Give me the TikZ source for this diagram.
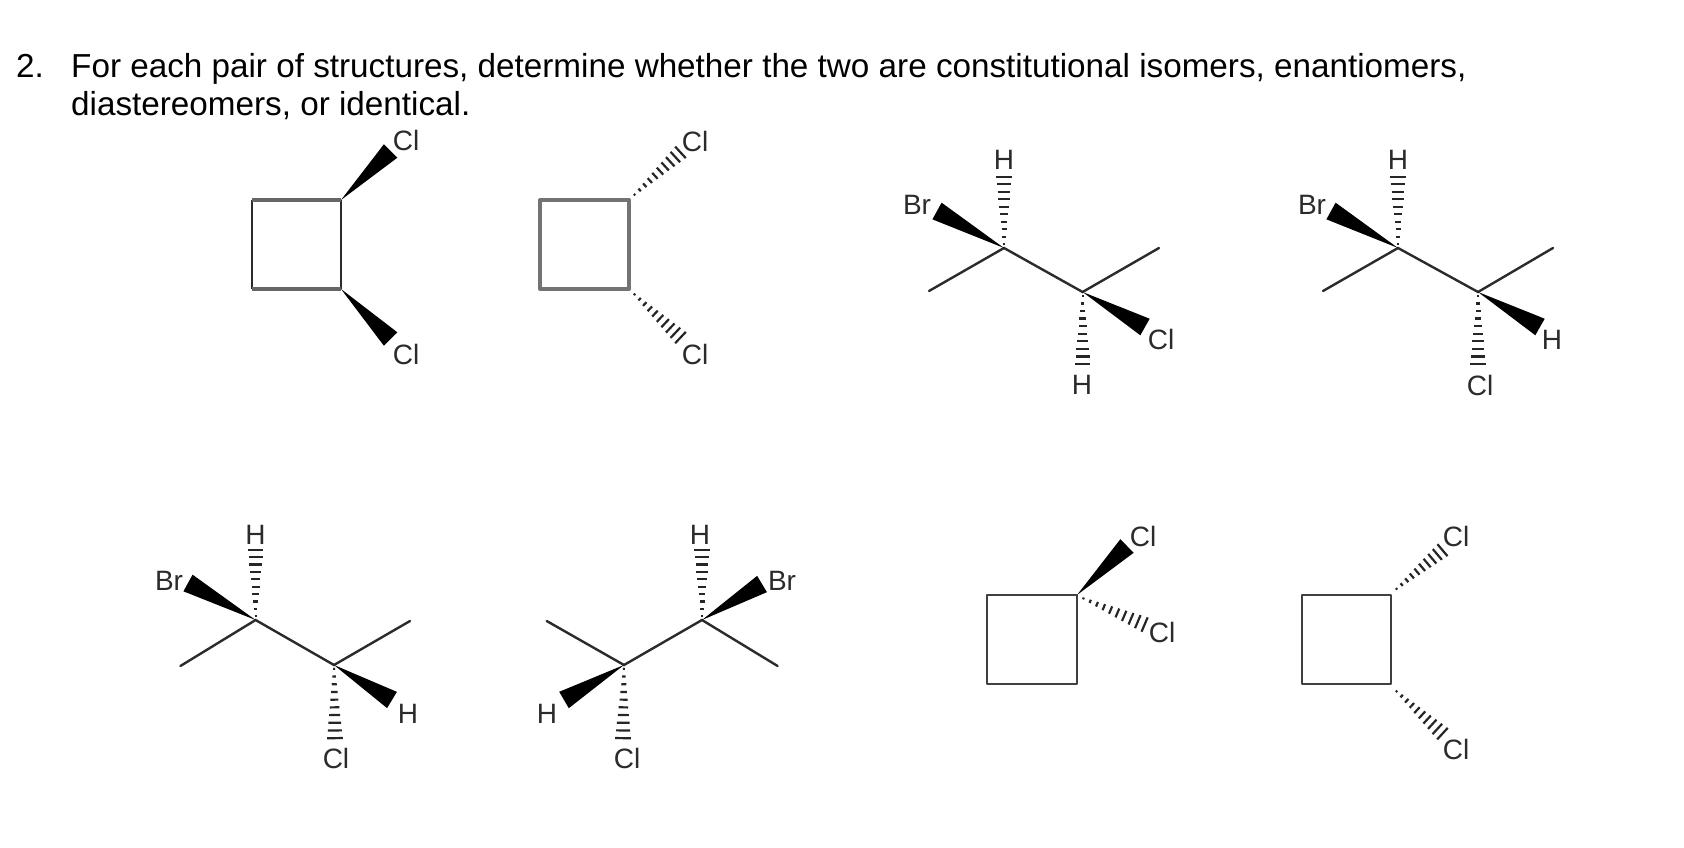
\documentclass[tikz,border=0pt]{standalone}
\usepackage{fontspec}
\setmainfont{Liberation Sans}
\usetikzlibrary{calc}

\definecolor{ink}{HTML}{2B2B2B}
\tikzset{
  atom/.style={inner sep=0pt, text=ink, font=\fontsize{28}{28}\selectfont},
  line/.style={anchor=base west, inner sep=0pt, font=\fontsize{33.25}{38}\selectfont},
  bond/.style={draw=ink, line width=2.4pt, line cap=round},
  ring/.style={draw=black!60, line width=3.4pt},
  ringside/.style={draw=ink, line width=2.4pt},
  thinring/.style={draw=black!75, line width=2.8pt, line join=round},
  heavyring/.style={draw=black!55, line width=4pt, line join=round},
  hashbar/.style={draw=black!85, line width=2.2pt}
}

\newcommand{\wedgebond}[2]{
  \path[fill=black] (#1) -- ($(#2)!9.5pt!90:(#1)$) -- ($(#2)!9.5pt!-90:(#1)$) -- cycle;
}
\newcommand{\hashbond}[2]{
  \foreach \t in {0.05,0.15,...,0.96}
  {
    \pgfmathsetmacro\w{0.6+7.6*\t}
    \path[hashbar] ($(#1)!\t!(#2)!\w pt!90:(#2)$) -- ($(#1)!\t!(#2)!\w pt!-90:(#2)$);
  }
}

\begin{document}
\begin{tikzpicture}[x=1pt, y=-1pt]
  \useasboundingbox (0,0) rectangle (1684,848);
  \node[line] (num) at (16,78) {2.};
  \node[line] (first) at (71,78) {For each pair of structures, determine whether the two are constitutional isomers, enantiomers,};
  \node[line] (second) at (71,116) {diastereomers, or identical.};

  % cis ring, wedges
  \coordinate (a1) at (252,200); \coordinate (a2) at (341,200);
  \coordinate (a3) at (341,289); \coordinate (a4) at (252,289);
  \coordinate (a5) at (390.6,151); \coordinate (a6) at (390.6,339);
  \path[ringside] (a1) -- (a4) (a2) -- (a3);
  \path[ring] (a1) -- (a2) (a3) -- (a4);
  \wedgebond{a2}{a5}
  \wedgebond{a3}{a6}
  \node[atom] (a7) at (406,140) {Cl};
  \node[atom] (a8) at (406,354) {Cl};

  % cis ring, hashes
  \coordinate (b1) at (540,200); \coordinate (b2) at (629,200);
  \coordinate (b3) at (629,289); \coordinate (b4) at (540,289);
  \coordinate (b5) at (632,197); \coordinate (b6) at (683,150);
  \coordinate (b7) at (632,292); \coordinate (b8) at (683,340);
  \path[heavyring] (b1) -- (b2) -- (b3) -- (b4) -- cycle;
  \hashbond{b5}{b6}
  \hashbond{b7}{b8}
  \node[atom] (b9) at (695,141) {Cl};
  \node[atom] (b10) at (695,354) {Cl};

  % top chain, left
  \coordinate (c1) at (1004,248); \coordinate (c2) at (1082.6,292);
  \coordinate (c3) at (929,291); \coordinate (c4) at (1159,248);
  \coordinate (c5) at (937,211); \coordinate (c6) at (1145,327);
  \coordinate (c7) at (1004,173); \coordinate (c8) at (1082.6,368);
  \path[bond] (c3) -- (c1) -- (c2) -- (c4);
  \wedgebond{c1}{c5}
  \wedgebond{c2}{c6}
  \hashbond{c1}{c7}
  \hashbond{c2}{c8}
  \node[atom] (c9) at (917,205) {Br};
  \node[atom] (c10) at (1161,339) {Cl};
  \node[atom] (c11) at (1004,160) {H};
  \node[atom] (c12) at (1082,385) {H};

  % top chain, right
  \coordinate (d1) at (1398,248); \coordinate (d2) at (1478,292);
  \coordinate (d3) at (1323,291); \coordinate (d4) at (1553,248);
  \coordinate (d5) at (1331,211); \coordinate (d6) at (1540,327);
  \coordinate (d7) at (1398,173); \coordinate (d8) at (1478,368);
  \path[bond] (d3) -- (d1) -- (d2) -- (d4);
  \wedgebond{d1}{d5}
  \wedgebond{d2}{d6}
  \hashbond{d1}{d7}
  \hashbond{d2}{d8}
  \node[atom] (d9) at (1312,205) {Br};
  \node[atom] (d10) at (1552,340) {H};
  \node[atom] (d11) at (1398,160) {H};
  \node[atom] (d12) at (1480,385) {Cl};

  % bottom chain, left
  \coordinate (e1) at (255.6,620); \coordinate (e2) at (334,665);
  \coordinate (e3) at (180.4,666); \coordinate (e4) at (410,621);
  \coordinate (e5) at (188,583); \coordinate (e6) at (392,700);
  \coordinate (e7) at (255.6,546); \coordinate (e8) at (335,742);
  \path[bond] (e3) -- (e1) -- (e2) -- (e4);
  \wedgebond{e1}{e5}
  \wedgebond{e2}{e6}
  \hashbond{e1}{e7}
  \hashbond{e2}{e8}
  \node[atom] (e9) at (169,581) {Br};
  \node[atom] (e10) at (408,714) {H};
  \node[atom] (e11) at (255.6,535) {H};
  \node[atom] (e12) at (336,758) {Cl};

  % bottom chain, right
  \coordinate (f1) at (702,620); \coordinate (f2) at (624,665);
  \coordinate (f3) at (777.6,666); \coordinate (f4) at (546.7,621);
  \coordinate (f5) at (762,584); \coordinate (f6) at (564,700);
  \coordinate (f7) at (702,546); \coordinate (f8) at (623,742);
  \path[bond] (f3) -- (f1) -- (f2) -- (f4);
  \wedgebond{f1}{f5}
  \wedgebond{f2}{f6}
  \hashbond{f1}{f7}
  \hashbond{f2}{f8}
  \node[atom] (f9) at (782,581) {Br};
  \node[atom] (f10) at (547,714) {H};
  \node[atom] (f11) at (700,535) {H};
  \node[atom] (f12) at (627,758) {Cl};

  % gem ring
  \coordinate (g1) at (987,595); \coordinate (g2) at (1077,595);
  \coordinate (g3) at (1077,684); \coordinate (g4) at (987,684);
  \coordinate (g5) at (1127,546); \coordinate (g6) at (1080,597);
  \coordinate (g7) at (1148,626);
  \path[thinring] (g1) -- (g2) -- (g3) -- (g4) -- cycle;
  \wedgebond{g2}{g5}
  \hashbond{g6}{g7}
  \node[atom] (g8) at (1143,536) {Cl};
  \node[atom] (g9) at (1162,632) {Cl};

  % trans ring, hashes
  \coordinate (h1) at (1302,595); \coordinate (h2) at (1391,595);
  \coordinate (h3) at (1391,684); \coordinate (h4) at (1302,684);
  \coordinate (h5) at (1394,591); \coordinate (h6) at (1445,548);
  \coordinate (h7) at (1394,689); \coordinate (h8) at (1445,736);
  \path[thinring] (h1) -- (h2) -- (h3) -- (h4) -- cycle;
  \hashbond{h5}{h6}
  \hashbond{h7}{h8}
  \node[atom] (h9) at (1456,536) {Cl};
  \node[atom] (h10) at (1456,749) {Cl};
\end{tikzpicture}
\end{document}
